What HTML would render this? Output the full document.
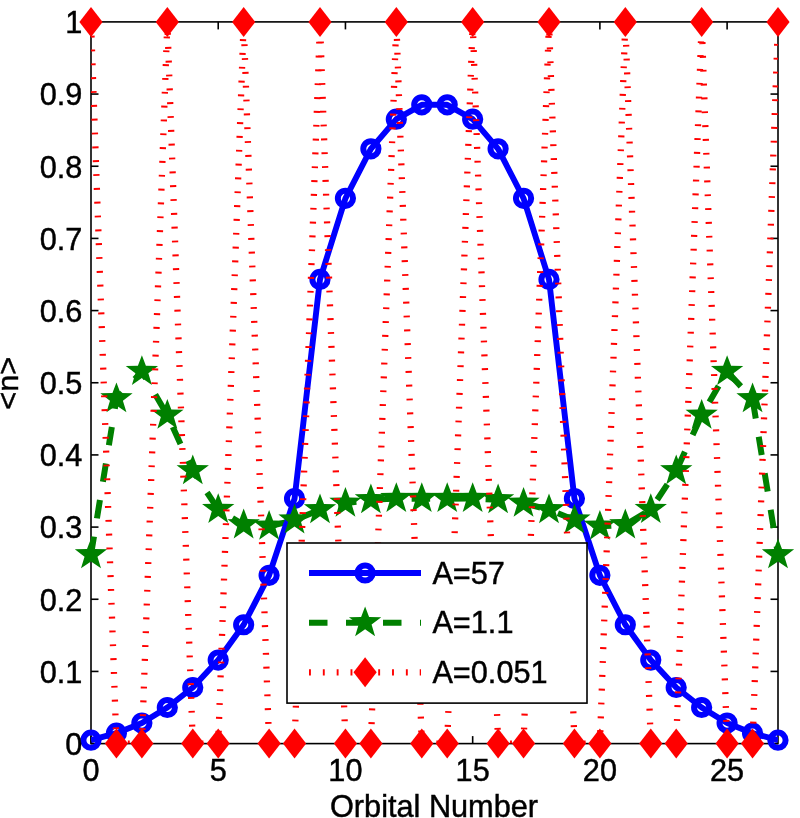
<!DOCTYPE html>
<html><head><meta charset="utf-8"><title>Orbital Number plot</title>
<style>html,body{margin:0;padding:0;background:#fff}svg{display:block}text{font-family:"Liberation Sans",sans-serif;font-size:30.7px;fill:#000;stroke:#000;stroke-width:0.45px}</style></head><body>
<svg width="800" height="818" viewBox="0 0 800 818">
<rect width="800" height="818" fill="#fff"/>
<defs><clipPath id="ax"><rect x="91.00" y="21.90" width="687.00" height="721.70"/></clipPath></defs>
<g stroke="#000" stroke-width="1.6" fill="none">
<rect x="91.00" y="21.90" width="687.00" height="721.70"/>
<line x1="91.00" y1="743.60" x2="91.00" y2="736.10"/>
<line x1="91.00" y1="21.90" x2="91.00" y2="29.40"/>
<line x1="218.22" y1="743.60" x2="218.22" y2="736.10"/>
<line x1="218.22" y1="21.90" x2="218.22" y2="29.40"/>
<line x1="345.44" y1="743.60" x2="345.44" y2="736.10"/>
<line x1="345.44" y1="21.90" x2="345.44" y2="29.40"/>
<line x1="472.67" y1="743.60" x2="472.67" y2="736.10"/>
<line x1="472.67" y1="21.90" x2="472.67" y2="29.40"/>
<line x1="599.89" y1="743.60" x2="599.89" y2="736.10"/>
<line x1="599.89" y1="21.90" x2="599.89" y2="29.40"/>
<line x1="727.11" y1="743.60" x2="727.11" y2="736.10"/>
<line x1="727.11" y1="21.90" x2="727.11" y2="29.40"/>
<line x1="91.00" y1="743.60" x2="98.50" y2="743.60"/>
<line x1="778.00" y1="743.60" x2="770.50" y2="743.60"/>
<line x1="91.00" y1="671.43" x2="98.50" y2="671.43"/>
<line x1="778.00" y1="671.43" x2="770.50" y2="671.43"/>
<line x1="91.00" y1="599.26" x2="98.50" y2="599.26"/>
<line x1="778.00" y1="599.26" x2="770.50" y2="599.26"/>
<line x1="91.00" y1="527.09" x2="98.50" y2="527.09"/>
<line x1="778.00" y1="527.09" x2="770.50" y2="527.09"/>
<line x1="91.00" y1="454.92" x2="98.50" y2="454.92"/>
<line x1="778.00" y1="454.92" x2="770.50" y2="454.92"/>
<line x1="91.00" y1="382.75" x2="98.50" y2="382.75"/>
<line x1="778.00" y1="382.75" x2="770.50" y2="382.75"/>
<line x1="91.00" y1="310.58" x2="98.50" y2="310.58"/>
<line x1="778.00" y1="310.58" x2="770.50" y2="310.58"/>
<line x1="91.00" y1="238.41" x2="98.50" y2="238.41"/>
<line x1="778.00" y1="238.41" x2="770.50" y2="238.41"/>
<line x1="91.00" y1="166.24" x2="98.50" y2="166.24"/>
<line x1="778.00" y1="166.24" x2="770.50" y2="166.24"/>
<line x1="91.00" y1="94.07" x2="98.50" y2="94.07"/>
<line x1="778.00" y1="94.07" x2="770.50" y2="94.07"/>
<line x1="91.00" y1="21.90" x2="98.50" y2="21.90"/>
<line x1="778.00" y1="21.90" x2="770.50" y2="21.90"/>
</g>
<g clip-path="url(#ax)"><polyline points="91.00,554.88 116.44,398.92 141.89,371.56 167.33,415.23 192.78,470.80 218.22,509.48 243.67,524.92 269.11,526.37 294.56,520.09 320.00,509.70 345.44,503.27 370.89,499.81 396.33,498.58 421.78,498.66 447.22,498.66 472.67,498.58 498.11,499.81 523.56,503.27 549.00,509.70 574.44,520.09 599.89,526.37 625.33,524.92 650.78,509.48 676.22,470.80 701.67,415.23 727.11,371.56 752.56,398.92 778.00,554.88" fill="none" stroke="#008000" stroke-width="6" stroke-dasharray="18.5 18.5" stroke-linejoin="round"/></g>
<g clip-path="url(#ax)"><polyline points="91.00,740.14 116.44,733.21 141.89,723.03 167.33,707.51 192.78,687.52 218.22,660.03 243.67,624.74 269.11,575.37 294.56,498.58 320.00,279.40 345.44,198.36 370.89,148.85 396.33,119.19 421.78,104.82 447.22,104.82 472.67,119.19 498.11,148.85 523.56,198.36 549.00,279.40 574.44,498.58 599.89,575.37 625.33,624.74 650.78,660.03 676.22,687.52 701.67,707.51 727.11,723.03 752.56,733.21 778.00,740.14" fill="none" stroke="#0000ff" stroke-width="5.9" stroke-linejoin="round"/></g>
<g fill="none" stroke="#0000ff" stroke-width="6.0"><circle cx="91.00" cy="740.14" r="7.60"/><circle cx="116.44" cy="733.21" r="7.60"/><circle cx="141.89" cy="723.03" r="7.60"/><circle cx="167.33" cy="707.51" r="7.60"/><circle cx="192.78" cy="687.52" r="7.60"/><circle cx="218.22" cy="660.03" r="7.60"/><circle cx="243.67" cy="624.74" r="7.60"/><circle cx="269.11" cy="575.37" r="7.60"/><circle cx="294.56" cy="498.58" r="7.60"/><circle cx="320.00" cy="279.40" r="7.60"/><circle cx="345.44" cy="198.36" r="7.60"/><circle cx="370.89" cy="148.85" r="7.60"/><circle cx="396.33" cy="119.19" r="7.60"/><circle cx="421.78" cy="104.82" r="7.60"/><circle cx="447.22" cy="104.82" r="7.60"/><circle cx="472.67" cy="119.19" r="7.60"/><circle cx="498.11" cy="148.85" r="7.60"/><circle cx="523.56" cy="198.36" r="7.60"/><circle cx="549.00" cy="279.40" r="7.60"/><circle cx="574.44" cy="498.58" r="7.60"/><circle cx="599.89" cy="575.37" r="7.60"/><circle cx="625.33" cy="624.74" r="7.60"/><circle cx="650.78" cy="660.03" r="7.60"/><circle cx="676.22" cy="687.52" r="7.60"/><circle cx="701.67" cy="707.51" r="7.60"/><circle cx="727.11" cy="723.03" r="7.60"/><circle cx="752.56" cy="733.21" r="7.60"/><circle cx="778.00" cy="740.14" r="7.60"/></g>
<g fill="#008000"><polygon points="91.00,538.58 95.00,549.07 107.17,549.32 97.47,556.68 100.99,568.33 91.00,561.38 81.01,568.33 84.53,556.68 74.83,549.32 87.00,549.07"/><polygon points="116.44,382.62 120.44,393.11 132.61,393.36 122.91,400.72 126.44,412.37 116.44,405.42 106.45,412.37 109.98,400.72 100.28,393.36 112.45,393.11"/><polygon points="141.89,355.26 145.89,365.76 158.06,366.01 148.36,373.36 151.88,385.02 141.89,378.06 131.90,385.02 135.42,373.36 125.72,366.01 137.89,365.76"/><polygon points="167.33,398.93 171.33,409.43 183.50,409.67 173.80,417.03 177.33,428.68 167.33,421.73 157.34,428.68 160.87,417.03 151.17,409.67 163.34,409.43"/><polygon points="192.78,454.50 196.77,465.00 208.95,465.24 199.24,472.60 202.77,484.25 192.78,477.30 182.79,484.25 186.31,472.60 176.61,465.24 188.78,465.00"/><polygon points="218.22,493.18 222.22,503.68 234.39,503.93 224.69,511.28 228.21,522.93 218.22,515.98 208.23,522.93 211.76,511.28 202.05,503.93 214.23,503.68"/><polygon points="243.67,508.62 247.66,519.12 259.83,519.37 250.13,526.73 253.66,538.38 243.67,531.42 233.67,538.38 237.20,526.73 227.50,519.37 239.67,519.12"/><polygon points="269.11,510.07 273.11,520.57 285.28,520.82 275.58,528.17 279.10,539.82 269.11,532.87 259.12,539.82 262.64,528.17 252.94,520.82 265.11,520.57"/><polygon points="294.56,503.79 298.55,514.29 310.72,514.54 301.02,521.89 304.55,533.54 294.56,526.59 284.56,533.54 288.09,521.89 278.39,514.54 290.56,514.29"/><polygon points="320.00,493.40 324.00,503.90 336.17,504.14 326.47,511.50 329.99,523.15 320.00,516.20 310.01,523.15 313.53,511.50 303.83,504.14 316.00,503.90"/><polygon points="345.44,486.97 349.44,497.47 361.61,497.72 351.91,505.08 355.44,516.73 345.44,509.77 335.45,516.73 338.98,505.08 329.28,497.72 341.45,497.47"/><polygon points="370.89,483.51 374.89,494.01 387.06,494.26 377.36,501.61 380.88,513.26 370.89,506.31 360.90,513.26 364.42,501.61 354.72,494.26 366.89,494.01"/><polygon points="396.33,482.28 400.33,492.78 412.50,493.03 402.80,500.38 406.33,512.04 396.33,505.08 386.34,512.04 389.87,500.38 380.17,493.03 392.34,492.78"/><polygon points="421.78,482.36 425.77,492.85 437.95,493.10 428.24,500.46 431.77,512.11 421.78,505.16 411.79,512.11 415.31,500.46 405.61,493.10 417.78,492.85"/><polygon points="447.22,482.36 451.22,492.85 463.39,493.10 453.69,500.46 457.21,512.11 447.22,505.16 437.23,512.11 440.76,500.46 431.05,493.10 443.23,492.85"/><polygon points="472.67,482.28 476.66,492.78 488.83,493.03 479.13,500.38 482.66,512.04 472.67,505.08 462.67,512.04 466.20,500.38 456.50,493.03 468.67,492.78"/><polygon points="498.11,483.51 502.11,494.01 514.28,494.26 504.58,501.61 508.10,513.26 498.11,506.31 488.12,513.26 491.64,501.61 481.94,494.26 494.11,494.01"/><polygon points="523.56,486.97 527.55,497.47 539.72,497.72 530.02,505.08 533.55,516.73 523.56,509.77 513.56,516.73 517.09,505.08 507.39,497.72 519.56,497.47"/><polygon points="549.00,493.40 553.00,503.90 565.17,504.14 555.47,511.50 558.99,523.15 549.00,516.20 539.01,523.15 542.53,511.50 532.83,504.14 545.00,503.90"/><polygon points="574.44,503.79 578.44,514.29 590.61,514.54 580.91,521.89 584.44,533.54 574.44,526.59 564.45,533.54 567.98,521.89 558.28,514.54 570.45,514.29"/><polygon points="599.89,510.07 603.89,520.57 616.06,520.82 606.36,528.17 609.88,539.82 599.89,532.87 589.90,539.82 593.42,528.17 583.72,520.82 595.89,520.57"/><polygon points="625.33,508.62 629.33,519.12 641.50,519.37 631.80,526.73 635.33,538.38 625.33,531.42 615.34,538.38 618.87,526.73 609.17,519.37 621.34,519.12"/><polygon points="650.78,493.18 654.77,503.68 666.95,503.93 657.24,511.28 660.77,522.93 650.78,515.98 640.79,522.93 644.31,511.28 634.61,503.93 646.78,503.68"/><polygon points="676.22,454.50 680.22,465.00 692.39,465.24 682.69,472.60 686.21,484.25 676.22,477.30 666.23,484.25 669.76,472.60 660.05,465.24 672.23,465.00"/><polygon points="701.67,398.93 705.66,409.43 717.83,409.67 708.13,417.03 711.66,428.68 701.67,421.73 691.67,428.68 695.20,417.03 685.50,409.67 697.67,409.43"/><polygon points="727.11,355.26 731.11,365.76 743.28,366.01 733.58,373.36 737.10,385.02 727.11,378.06 717.12,385.02 720.64,373.36 710.94,366.01 723.11,365.76"/><polygon points="752.56,382.62 756.55,393.11 768.72,393.36 759.02,400.72 762.55,412.37 752.56,405.42 742.56,412.37 746.09,400.72 736.39,393.36 748.56,393.11"/><polygon points="778.00,538.58 782.00,549.07 794.17,549.32 784.47,556.68 787.99,568.33 778.00,561.38 768.01,568.33 771.53,556.68 761.83,549.32 774.00,549.07"/></g>
<g clip-path="url(#ax)"><polyline points="91.00,21.90 116.44,743.60 141.89,743.60 167.33,21.90 192.78,743.60 218.22,743.60 243.67,21.90 269.11,743.60 294.56,743.60 320.00,21.90 345.44,743.60 370.89,743.60 396.33,21.90 421.78,743.60 447.22,743.60 472.67,21.90 498.11,743.60 523.56,743.60 549.00,21.90 574.44,743.60 599.89,743.60 625.33,21.90 650.78,743.60 676.22,743.60 701.67,21.90 727.11,743.60 752.56,743.60 778.00,21.90" fill="none" stroke="#ff0000" stroke-width="6.3" stroke-dasharray="1.9 11.9404"/></g>
<g fill="#ff0000"><polygon points="91.00,6.90 102.60,21.90 91.00,36.90 79.40,21.90"/><polygon points="116.44,728.60 128.04,743.60 116.44,758.60 104.84,743.60"/><polygon points="141.89,728.60 153.49,743.60 141.89,758.60 130.29,743.60"/><polygon points="167.33,6.90 178.93,21.90 167.33,36.90 155.73,21.90"/><polygon points="192.78,728.60 204.38,743.60 192.78,758.60 181.18,743.60"/><polygon points="218.22,728.60 229.82,743.60 218.22,758.60 206.62,743.60"/><polygon points="243.67,6.90 255.27,21.90 243.67,36.90 232.07,21.90"/><polygon points="269.11,728.60 280.71,743.60 269.11,758.60 257.51,743.60"/><polygon points="294.56,728.60 306.16,743.60 294.56,758.60 282.96,743.60"/><polygon points="320.00,6.90 331.60,21.90 320.00,36.90 308.40,21.90"/><polygon points="345.44,728.60 357.04,743.60 345.44,758.60 333.84,743.60"/><polygon points="370.89,728.60 382.49,743.60 370.89,758.60 359.29,743.60"/><polygon points="396.33,6.90 407.93,21.90 396.33,36.90 384.73,21.90"/><polygon points="421.78,728.60 433.38,743.60 421.78,758.60 410.18,743.60"/><polygon points="447.22,728.60 458.82,743.60 447.22,758.60 435.62,743.60"/><polygon points="472.67,6.90 484.27,21.90 472.67,36.90 461.07,21.90"/><polygon points="498.11,728.60 509.71,743.60 498.11,758.60 486.51,743.60"/><polygon points="523.56,728.60 535.16,743.60 523.56,758.60 511.96,743.60"/><polygon points="549.00,6.90 560.60,21.90 549.00,36.90 537.40,21.90"/><polygon points="574.44,728.60 586.04,743.60 574.44,758.60 562.84,743.60"/><polygon points="599.89,728.60 611.49,743.60 599.89,758.60 588.29,743.60"/><polygon points="625.33,6.90 636.93,21.90 625.33,36.90 613.73,21.90"/><polygon points="650.78,728.60 662.38,743.60 650.78,758.60 639.18,743.60"/><polygon points="676.22,728.60 687.82,743.60 676.22,758.60 664.62,743.60"/><polygon points="701.67,6.90 713.27,21.90 701.67,36.90 690.07,21.90"/><polygon points="727.11,728.60 738.71,743.60 727.11,758.60 715.51,743.60"/><polygon points="752.56,728.60 764.16,743.60 752.56,758.60 740.96,743.60"/><polygon points="778.00,6.90 789.60,21.90 778.00,36.90 766.40,21.90"/></g>
<text transform="translate(82.30,754.90) scale(1,1.035)" text-anchor="end">0</text>
<text transform="translate(82.30,682.73) scale(1,1.035)" text-anchor="end">0.1</text>
<text transform="translate(82.30,610.56) scale(1,1.035)" text-anchor="end">0.2</text>
<text transform="translate(82.30,538.39) scale(1,1.035)" text-anchor="end">0.3</text>
<text transform="translate(82.30,466.22) scale(1,1.035)" text-anchor="end">0.4</text>
<text transform="translate(82.30,394.05) scale(1,1.035)" text-anchor="end">0.5</text>
<text transform="translate(82.30,321.88) scale(1,1.035)" text-anchor="end">0.6</text>
<text transform="translate(82.30,249.71) scale(1,1.035)" text-anchor="end">0.7</text>
<text transform="translate(82.30,177.54) scale(1,1.035)" text-anchor="end">0.8</text>
<text transform="translate(82.30,105.37) scale(1,1.035)" text-anchor="end">0.9</text>
<text transform="translate(82.30,33.20) scale(1,1.035)" text-anchor="end">1</text>
<text transform="translate(91.00,781.30) scale(1,1.035)" text-anchor="middle">0</text>
<text transform="translate(218.22,781.30) scale(1,1.035)" text-anchor="middle">5</text>
<text transform="translate(345.44,781.30) scale(1,1.035)" text-anchor="middle">10</text>
<text transform="translate(472.67,781.30) scale(1,1.035)" text-anchor="middle">15</text>
<text transform="translate(599.89,781.30) scale(1,1.035)" text-anchor="middle">20</text>
<text transform="translate(727.11,781.30) scale(1,1.035)" text-anchor="middle">25</text>
<text transform="translate(434.00,817.30) scale(1,1.035)" text-anchor="middle">Orbital Number</text>
<text transform="translate(17.90,383.20) rotate(-90) scale(1,0.975)" text-anchor="middle">&lt;n&gt;</text>
<rect x="287.00" y="543.00" width="300.00" height="160.10" fill="#fff" stroke="#000" stroke-width="1.6"/>
<line x1="309.0" y1="573.0" x2="421.0" y2="573.0" stroke="#0000ff" stroke-width="5.9"/>
<g fill="none" stroke="#0000ff" stroke-width="6.0"><circle cx="365.10" cy="573.00" r="7.60"/></g>
<line x1="309.0" y1="622.7" x2="421.0" y2="622.7" stroke="#008000" stroke-width="6" stroke-dasharray="18.5 18.5"/>
<g fill="#008000"><polygon points="365.10,606.40 369.10,616.90 381.27,617.15 371.57,624.50 375.09,636.15 365.10,629.20 355.11,636.15 358.63,624.50 348.93,617.15 361.10,616.90"/></g>
<line x1="309.0" y1="672.3" x2="421.0" y2="672.3" stroke="#ff0000" stroke-width="6.3" stroke-dasharray="1.9 11.9404"/>
<g fill="#ff0000"><polygon points="365.10,657.30 376.70,672.30 365.10,687.30 353.50,672.30"/></g>
<text transform="translate(432.40,583.90) scale(1,1.035)" text-anchor="start">A=57</text>
<text transform="translate(432.40,633.40) scale(1,1.035)" text-anchor="start">A=1.1</text>
<text transform="translate(432.40,683.30) scale(1,1.035)" text-anchor="start">A=0.051</text>
</svg></body></html>
